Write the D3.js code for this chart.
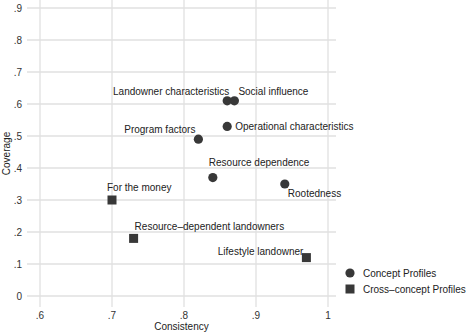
<!DOCTYPE html>
<html>
<head>
<meta charset="utf-8">
<script src="https://cdn.jsdelivr.net/npm/d3@7"></script>
<style>
  body { margin: 0; background: #fff; }
  text { font-family: "Liberation Sans", Arial, sans-serif; }
</style>
</head>
<body>
<script>
// Chart size
const WIDTH = 474;
const HEIGHT = 332;

// Profile names, consistency and coverage
const conceptNames = ["Landowner characteristics", "Social influence", "Operational characteristics",
                      "Program factors", "Resource dependence", "Rootedness"];
const conceptConsistency = [0.86, 0.87, 0.86, 0.82, 0.84, 0.94];
const conceptCoverage = [0.61, 0.61, 0.53, 0.49, 0.37, 0.35];

const crossNames = ["For the money", "Resource\u2013dependent landowners", "Lifestyle landowner"];
const crossConsistency = [0.70, 0.73, 0.97];
const crossCoverage = [0.30, 0.18, 0.12];

const xTicks = [0.6, 0.7, 0.8, 0.9, 1.0];
const yTicks = [0, 0.1, 0.2, 0.3, 0.4, 0.5, 0.6, 0.7, 0.8, 0.9];

const legendLabels = ["Concept Profiles", "Cross\u2013concept Profiles"];

/** Label placement per marker: text-anchor, x offset, y offset (from marker centre) */
const labelPlace = {
    "Landowner characteristics": ["end", 2, -9],
    "Social influence": ["start", 4, -9],
    "Operational characteristics": ["start", 8, 0],
    "Program factors": ["end", -3, -10],
    "Resource dependence": ["start", -4, -15],
    "Rootedness": ["start", 3, 9],
    "For the money": ["start", -5, -13],
    "Resource\u2013dependent landowners": ["start", 1, -12],
    "Lifestyle landowner": ["end", -3, -6]
};

const fmt = v => v === 0 ? "0" : (v === 1 ? "1" : d3.format(".1f")(v).replace(/^0/, ""));

const x = d3.scaleLinear().domain([0.6, 1.0]).range([40, 328]);
const y = d3.scaleLinear().domain([0, 0.9]).range([296, 8]);

// plot region extends a bit past the outer ticks
const plotLeft = x(0.6) - 13, plotRight = x(1.0) + 8;
const plotTop = y(0.9) - 8, plotBottom = y(0) + 11;

const svg = d3.select("body").append("svg")
    .attr("width", WIDTH)
    .attr("height", HEIGHT);

const gridColor = "#e1e1e1";

// horizontal grid + y labels
svg.append("g").selectAll("line")
    .data(yTicks).enter().append("line")
    .attr("x1", plotLeft).attr("x2", plotRight)
    .attr("y1", d => y(d)).attr("y2", d => y(d))
    .attr("stroke", gridColor).attr("stroke-width", 1.3);

svg.append("g").selectAll("text")
    .data(yTicks).enter().append("text")
    .attr("x", 22).attr("y", d => y(d))
    .attr("text-anchor", "end")
    .attr("dominant-baseline", "central")
    .attr("font-size", 10).attr("fill", "#333")
    .text(fmt);

// vertical grid + x labels
svg.append("g").selectAll("line")
    .data(xTicks).enter().append("line")
    .attr("x1", d => x(d)).attr("x2", d => x(d))
    .attr("y1", plotTop).attr("y2", plotBottom)
    .attr("stroke", gridColor).attr("stroke-width", 1.3);

svg.append("g").selectAll("text")
    .data(xTicks).enter().append("text")
    .attr("x", d => x(d)).attr("y", 315)
    .attr("text-anchor", "middle")
    .attr("dominant-baseline", "central")
    .attr("font-size", 10).attr("fill", "#333")
    .text(fmt);

// axis titles
svg.append("text")
    .attr("x", (plotLeft + plotRight) / 2).attr("y", 326)
    .attr("text-anchor", "middle").attr("dominant-baseline", "central")
    .attr("font-size", 10).attr("fill", "#222")
    .text("Consistency");

svg.append("text")
    .attr("transform", `translate(6,${(plotTop + plotBottom) / 2}) rotate(-90)`)
    .attr("text-anchor", "middle").attr("dominant-baseline", "central")
    .attr("font-size", 10).attr("fill", "#222")
    .text("Coverage");

const markColor = "#383838";
const conceptData = conceptNames.map((n, i) => ({name: n, cx: conceptConsistency[i], cy: conceptCoverage[i]}));
const crossData = crossNames.map((n, i) => ({name: n, cx: crossConsistency[i], cy: crossCoverage[i]}));

svg.append("g").selectAll("circle")
    .data(conceptData).enter().append("circle")
    .attr("cx", d => x(d.cx)).attr("cy", d => y(d.cy))
    .attr("r", 4.6).attr("fill", markColor);

const sq = 9;
svg.append("g").selectAll("rect")
    .data(crossData).enter().append("rect")
    .attr("x", d => x(d.cx) - sq / 2).attr("y", d => y(d.cy) - sq / 2)
    .attr("width", sq).attr("height", sq).attr("fill", markColor);

// marker labels
svg.append("g").selectAll("text")
    .data(conceptData.concat(crossData)).enter().append("text")
    .attr("x", d => x(d.cx) + labelPlace[d.name][1])
    .attr("y", d => y(d.cy) + labelPlace[d.name][2])
    .attr("text-anchor", d => labelPlace[d.name][0])
    .attr("dominant-baseline", "central")
    .attr("font-size", 10).attr("fill", "#222")
    .text(d => d.name);

// legend
const legend = svg.append("g").attr("transform", "translate(350,273)");
legend.append("circle").attr("cx", 0).attr("cy", 0).attr("r", 4.6).attr("fill", markColor);
legend.append("rect").attr("x", -sq / 2).attr("y", 16 - sq / 2)
    .attr("width", sq).attr("height", sq).attr("fill", markColor);
legend.selectAll("text")
    .data(legendLabels).enter().append("text")
    .attr("x", 13).attr("y", (d, i) => i * 16)
    .attr("dominant-baseline", "central")
    .attr("font-size", 10).attr("fill", "#222")
    .text(d => d);
</script>
</body>
</html>
